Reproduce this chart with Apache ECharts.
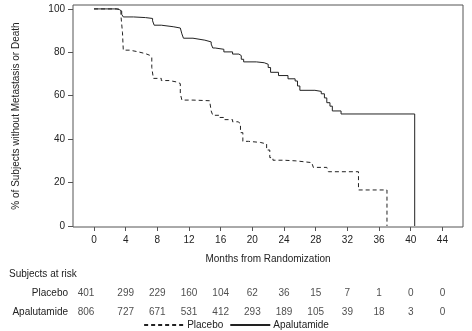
<!DOCTYPE html>
<html>
<head>
<meta charset="utf-8">
<script src="https://cdn.jsdelivr.net/npm/echarts@6/dist/echarts.min.js"></script>
<style>
html,body{margin:0;padding:0;background:#fff;}
#c{width:472px;height:331px;}
</style>
</head>
<body>
<div id="c"></div>
<script>
// ---- data ----
const xTicks = [0, 4, 8, 12, 16, 20, 24, 28, 32, 36, 40, 44];
const yTicks = [0, 20, 40, 60, 80, 100];

const placeboMonths = [0, 3.0, 3.4, 3.6, 3.7, 4.5, 5.5, 6.5, 7.0, 7.3, 7.5, 8.5, 9.5, 10.5, 10.9, 11.1, 12.5, 14.6, 14.8, 15.0, 15.8, 16.5, 17.5, 18.2, 18.5, 18.8, 19.5, 21.0, 21.8, 22.2, 22.6, 24.0, 25.5, 26.5, 27.5, 27.7, 29.4, 29.6, 33.4, 37.0];
const placeboSurv   = [100, 99.7, 97, 89, 81.0, 80.3, 79.4, 78.7, 77.8, 73, 68.0, 67.0, 66.3, 65.6, 61, 58.0, 57.7, 57.4, 53, 51.0, 50.0, 49.0, 48.0, 47.2, 43, 39.0, 38.5, 37.8, 35, 31.5, 30.3, 30.0, 29.6, 29.2, 28.6, 27.0, 26.6, 25.0, 16.6, 0];

const apaMonths = [0, 2.8, 3.2, 3.5, 3.7, 5.0, 6.5, 7.4, 7.6, 8.5, 10.0, 10.9, 11.1, 11.3, 12.5, 14.0, 14.8, 15.0, 15.3, 16.4, 17.5, 18.3, 18.6, 18.9, 20.5, 21.5, 22.0, 22.3, 23.3, 24.5, 25.4, 25.7, 26.0, 27.9, 28.7, 29.1, 29.4, 29.8, 30.1, 31.2, 40.5];
const apaSurv   = [100, 99.7, 99.0, 97.5, 96.3, 96.0, 95.6, 94.5, 92.5, 91.8, 91.2, 90.5, 88.5, 86.5, 85.6, 84.8, 83.8, 82.0, 81.4, 80.2, 79.2, 78.5, 76.8, 75.6, 75.2, 74.5, 73.0, 70.8, 69.3, 67.8, 66.8, 64.5, 62.5, 62.0, 60.9, 59.0, 56.8, 55.2, 53.0, 51.6, 0];

const riskMonths = [0, 4, 8, 12, 16, 20, 24, 28, 32, 36, 40, 44];
const placeboAtRisk = [401, 299, 229, 160, 104, 62, 36, 15, 7, 1, 0, 0];
const apaAtRisk     = [806, 727, 671, 531, 412, 293, 189, 105, 39, 18, 3, 0];
const riskRows = ['Placebo', 'Apalutamide'];

// ---- chart ----
const FONT = '"Liberation Sans", Arial, sans-serif';
const TXT = '#222';
const chart = echarts.init(document.getElementById('c'), null, {renderer: 'canvas'});

function zipXY(xs, ys) { return xs.map((x, i) => [x, ys[i]]); }
function riskData(vals, row) {
  return riskMonths.map((m, i) => {
    const item = {value: [m, row, vals[i]]};
    if (i === 0) item.label = {offset: [-8, 0]};
    return item;
  });
}

const option = {
  animation: false,
  textStyle: {fontFamily: FONT, color: TXT},
  grid: [
    {left: 73, right: 9, top: 5, bottom: 104, show: true, borderColor: '#555', borderWidth: 1, backgroundColor: 'transparent'},
    {left: 73, right: 9, top: 283.5, height: 38}
  ],
  xAxis: [
    {
      gridIndex: 0, type: 'value', min: -2.65, max: 46.6,
      axisLine: {show: false, onZero: false},
      axisTick: {show: true, length: 4, customValues: xTicks, lineStyle: {color: '#555'}},
      axisLabel: {customValues: xTicks, margin: 8, fontSize: 10, color: TXT, fontFamily: FONT},
      splitLine: {show: false},
      name: 'Months from Randomization', nameLocation: 'middle', nameGap: 27,
      nameTextStyle: {fontSize: 10, color: TXT, fontFamily: FONT}
    },
    {
      gridIndex: 1, type: 'value', min: -2.65, max: 46.6, show: false
    }
  ],
  yAxis: [
    {
      gridIndex: 0, type: 'value', min: -0.46, max: 101.8,
      axisLine: {show: false, onZero: false},
      axisTick: {show: true, length: 5, customValues: yTicks, lineStyle: {color: '#555'}},
      axisLabel: {customValues: yTicks, margin: 8, fontSize: 10, color: TXT, fontFamily: FONT},
      splitLine: {show: false},
      name: '% of Subjects without Metastasis or Death', nameLocation: 'middle', nameGap: 52,
      nameTextStyle: {fontSize: 10, color: TXT, fontFamily: FONT}
    },
    {
      gridIndex: 1, type: 'category', data: riskRows, inverse: true,
      axisLine: {show: false}, axisTick: {show: false}, splitLine: {show: false},
      axisLabel: {margin: 5, fontSize: 10, color: TXT, fontFamily: FONT}
    }
  ],
  legend: {
    data: ['Placebo', 'Apalutamide'],
    left: 'center', top: 320,
    itemWidth: 40, itemHeight: 10, itemGap: 6,
    itemStyle: {opacity: 0},
    textStyle: {fontSize: 10, color: TXT, fontFamily: FONT, padding: [0, 0, 0, -2]},
    padding: 0
  },
  graphic: [
    {type: 'text', left: 9, top: 269, style: {text: 'Subjects at risk', font: '10px ' + FONT, fill: TXT}}
  ],
  series: [
    {
      name: 'Placebo', type: 'line', xAxisIndex: 0, yAxisIndex: 0, step: 'end',
      data: zipXY(placeboMonths, placeboSurv), symbol: 'none', showSymbol: false,
      lineStyle: {color: '#222', width: 1, type: [4, 3]}, itemStyle: {color: '#222'}
    },
    {
      name: 'Apalutamide', type: 'line', xAxisIndex: 0, yAxisIndex: 0, step: 'end',
      data: zipXY(apaMonths, apaSurv), symbol: 'none', showSymbol: false,
      lineStyle: {color: '#222', width: 1, type: 'solid'}, itemStyle: {color: '#222'}
    },
    {
      name: 'riskP', type: 'scatter', xAxisIndex: 1, yAxisIndex: 1, symbolSize: 0, silent: true,
      data: riskData(placeboAtRisk, 0),
      label: {show: true, position: 'inside', formatter: p => String(p.value[2]), fontSize: 10, color: TXT, fontFamily: FONT}
    },
    {
      name: 'riskA', type: 'scatter', xAxisIndex: 1, yAxisIndex: 1, symbolSize: 0, silent: true,
      data: riskData(apaAtRisk, 1),
      label: {show: true, position: 'inside', formatter: p => String(p.value[2]), fontSize: 10, color: TXT, fontFamily: FONT}
    }
  ]
};
chart.setOption(option);
</script>
</body>
</html>
